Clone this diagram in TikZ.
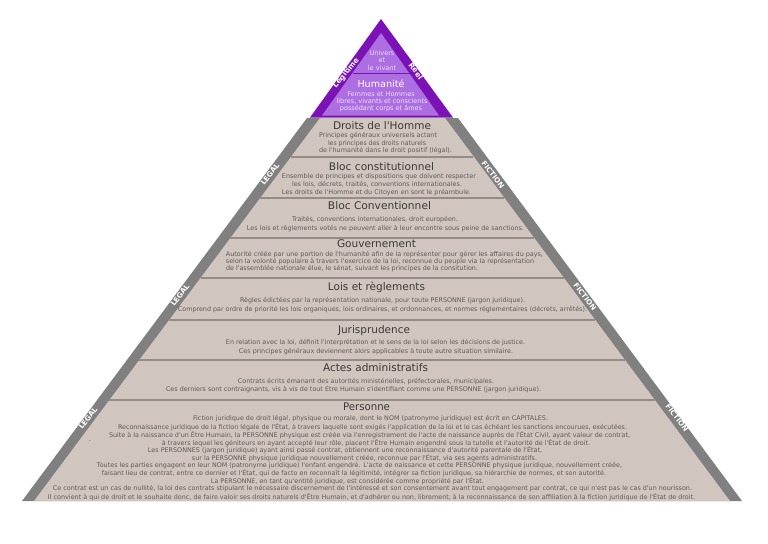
\documentclass[tikz,border=0pt]{standalone}
\usepackage{fontspec}
\newfontfamily\djv{DejaVu Sans}
\definecolor{beige}{HTML}{D0C6BF}
\definecolor{rim}{HTML}{808080}
\definecolor{rule}{HTML}{968C86}
\definecolor{ink}{HTML}{625A58}
\definecolor{titleink}{HTML}{3E3836}
\definecolor{deep}{HTML}{7A12B5}
\definecolor{lav}{HTML}{AC6EE1}
\definecolor{pale}{HTML}{EDE0F7}
\tikzset{
 every node/.style={inner sep=0pt,outer sep=0pt,anchor=center},
 bandtitle/.style={text=titleink,font=\djv\fontsize{7.9pt}{8pt}\selectfont},
 bodyline/.style={text=ink,font=\djv\fontsize{4.8pt}{5pt}\selectfont},
 rimlabel/.style={text=white,font=\djv\bfseries\fontsize{5.4pt}{6pt}\selectfont},
 toptitle/.style={text=white,font=\djv\fontsize{7.2pt}{8pt}\selectfont},
 topline/.style={text=pale,font=\djv\fontsize{4.9pt}{5pt}\selectfont},
 slopelabel/.style={text=white,font=\djv\bfseries\fontsize{5.6pt}{6pt}\selectfont},
 divider/.style={draw=rule,line width=0.9pt},
}
% name, left x, right x, y, text : a line of text set to the measured extent
\newcommand\bl[5]{\pgfmathsetlengthmacro\linew{(#3-#2)*0.75}%
 \node[bodyline] (#1) at ({(#2+#3)/2},#4) {\resizebox{\linew}{\height}{#5}};}
\newcommand\tl[5]{\pgfmathsetlengthmacro\linew{(#3-#2)*0.75}%
 \node[bandtitle] (#1) at ({(#2+#3)/2},#4) {\resizebox{\linew}{\height}{#5}};}
\begin{document}
\begin{tikzpicture}[x=0.75pt,y=-0.75pt]
\useasboundingbox (0,0) rectangle (768,543);
\fill[white] (0,0) rectangle (768,543);
% pyramid body
\fill[rim] (307,118) -- (458,118) -- (742,501) -- (22,501) -- cycle;
\fill[beige] (320,118) -- (445,118) -- (730,501) -- (34,501) -- cycle;
\coordinate (d1l) at (291,157);   \coordinate (d1r) at (473,157);
\coordinate (d2l) at (260,198);   \coordinate (d2r) at (504,198);
\coordinate (d3l) at (230,238);   \coordinate (d3r) at (534,238);
\coordinate (d4l) at (200.5,278); \coordinate (d4r) at (563.5,278);
\coordinate (d5l) at (169,320);   \coordinate (d5r) at (595,320);
\coordinate (d6l) at (139,360);   \coordinate (d6r) at (625,360);
\coordinate (d7l) at (109.4,400); \coordinate (d7r) at (654.6,400);
\foreach \i in {1,...,7} \draw[divider] (d\i l) -- (d\i r);
% top triangle
\fill[deep] (381,19) -- (453,117.5) -- (310,117.5) -- cycle;
\fill[lav] (381,33) -- (439,115.5) -- (322,115.5) -- cycle;
\coordinate (tl) at (353,73); \coordinate (tr) at (410,73);
\draw[deep,line width=0.7pt] (tl) -- (tr);
\node[topline] (u1) at (382,53) {Univers};
\node[topline] (u2) at (382,60) {et};
\node[topline] (u3) at (382,68) {le vivant};
\node[toptitle] (hum) at (381,84) {Humanité};
\node[topline] (h1) at (381,94) {Femmes et Hommes};
\node[topline] (h2) at (382,101) {libres, vivants et conscients};
\node[topline] (h3) at (381,109) {possédant corps et âmes};
\node[slopelabel,rotate=51] (leg) at (346,73) {Légitime};
\node[slopelabel,rotate=-53] (reel) at (416,71) {Réel};
% rim labels
\node[rimlabel,rotate=53] (l1) at (270,174) {LEGAL};
\node[rimlabel,rotate=53] (l2) at (180,295) {LEGAL};
\node[rimlabel,rotate=53] (l3) at (88,418) {LEGAL};
\node[rimlabel,rotate=-53] (f1) at (493,175) {FICTION};
\node[rimlabel,rotate=-53] (f2) at (585,297) {FICTION};
\node[rimlabel,rotate=-53] (f3) at (677,418) {FICTION};
% bands
\tl{t1}{333}{431}{126}{Droits de l'Homme}
\bl{a1}{319}{437}{136}{Principes généraux universels actant}
\bl{a2}{328}{426}{143.5}{les principes des droits naturels}
\bl{a3}{319}{452}{151}{de l'humanité dans le droit positif (légal).}
\tl{t2}{329}{434}{167}{Bloc constitutionnel}
\bl{b1}{282}{476}{177}{Ensemble de principes et dispositions que doivent respecter}
\bl{b2}{292}{462}{184.5}{les lois, décrets, traités, conventions internationales.}
\bl{b3}{282}{471}{192.3}{Les droits de l'Homme et du Citoyen en sont le préambule.}
\tl{t3}{328}{431}{206}{Bloc Conventionnel}
\bl{c1}{292}{458}{220}{Traités, conventions internationales, droit européen.}
\bl{c2}{247}{524}{229}{Les lois et règlements votés ne peuvent aller à leur encontre sous peine de sanctions.}
\tl{t4}{337}{416}{244}{Gouvernement}
\bl{e1}{226}{543}{255}{Autorité créée par une portion de l'humanité afin de la représenter pour gérer les affaires du pays,}
\bl{e2}{226}{534}{262}{selon la volonté populaire à travers l'exercice de la loi, reconnue du peuple via la représentation}
\bl{e3}{226}{478}{269}{de l'assemblée nationale élue, le sénat, suivant les principes de la consitution.}
\tl{t5}{328}{425}{287}{Lois et règlements}
\bl{g1}{240}{525}{301}{Règles édictées par la représentation nationale, pour toute PERSONNE (jargon juridique).}
\bl{g2}{178}{587}{310}{Comprend par ordre de priorité les lois organiques, lois ordinaires, et ordonnances, et normes réglementaires (décrets, arrêtés).}
\tl{t6}{338}{410}{331}{Jurisprudence}
\bl{j1}{226}{525}{343}{En relation avec la loi, définit l'interprétation et le sens de la loi selon les décisions de justice.}
\bl{j2}{239}{513}{352}{Ces principes généraux deviennent alors applicables à toute autre situation similaire.}
\tl{t7}{323}{428}{368}{Actes administratifs}
\bl{k1}{238}{494}{382}{Contrats écrits émanant des autorités ministérielles, préfectorales, municipales.}
\bl{k2}{166}{541}{390}{Ces derniers sont contraignants, vis à vis de tout Etre Humain s'identifiant comme une PERSONNE (jargon juridique).}
\tl{t8}{343}{390}{407}{Personne}
\bl{p1}{193}{548}{419}{Fiction juridique de droit légal, physique ou morale, dont le NOM (patronyme juridique) est écrit en CAPITALES.}
\bl{p2}{118}{627}{427.3}{Reconnaissance juridique de la fiction légale de l'État, à travers laquelle sont exigés l'application de la loi et le cas échéant les sanctions encourues, exécutées.}
\bl{p3}{109}{630}{435}{Suite à la naissance d'un Être Humain, la PERSONNE physique est créée via l'enregistrement de l'acte de naissance auprès de l'État Civil, ayant valeur de contrat,}
\bl{p4}{162}{590}{442.7}{à travers lequel  les géniteurs en ayant accepté leur rôle, placent l'Être Humain engendré sous la tutelle et l'autorité de l'État de droit.}
\node[bodyline] (pdot) at (90,441) {.};
\bl{p5}{148}{542}{450}{Les PERSONNES (jargon juridique) ayant ainsi passé contrat, obtiennent une reconnaissance d'autorité parentale de l'État,}
\bl{p6}{192}{537}{457.7}{sur la PERSONNE physique juridique nouvellement créée, reconnue par l'État, via ses agents administratifs.}
\bl{p7}{97}{622}{465.3}{Toutes les parties engagent en leur NOM (patronyme juridique) l'enfant engendré. L'acte de naissance et cette PERSONNE physique juridique, nouvellement créée,}
\bl{p8}{102}{606}{473.3}{faisant lieu de contrat, entre ce dernier et l'État, qui de facto en reconnaît la légitimité, intégrer sa fiction juridique, sa hiérarchie de normes, et son autorité.}
\bl{p9}{211}{484}{481}{La PERSONNE, en tant qu'entité juridique, est considérée comme propriété par l'État.}
\bl{p10}{53}{692}{488.7}{Ce contrat est un cas de nullité, la loi des contrats stipulant le nécessaire discernement de l'intéressé et son consentement avant tout engagement par contrat, ce qui n'est pas le cas d'un nourisson.}
\bl{p11}{48}{695}{496.7}{Il convient à qui de droit et le souhaite donc, de faire valoir ses droits naturels d'Être Humain, et d'adhérer ou non, librement, à la reconnaissance de son affiliation à la fiction juridique de l'État de droit.}
\end{tikzpicture}
\end{document}
